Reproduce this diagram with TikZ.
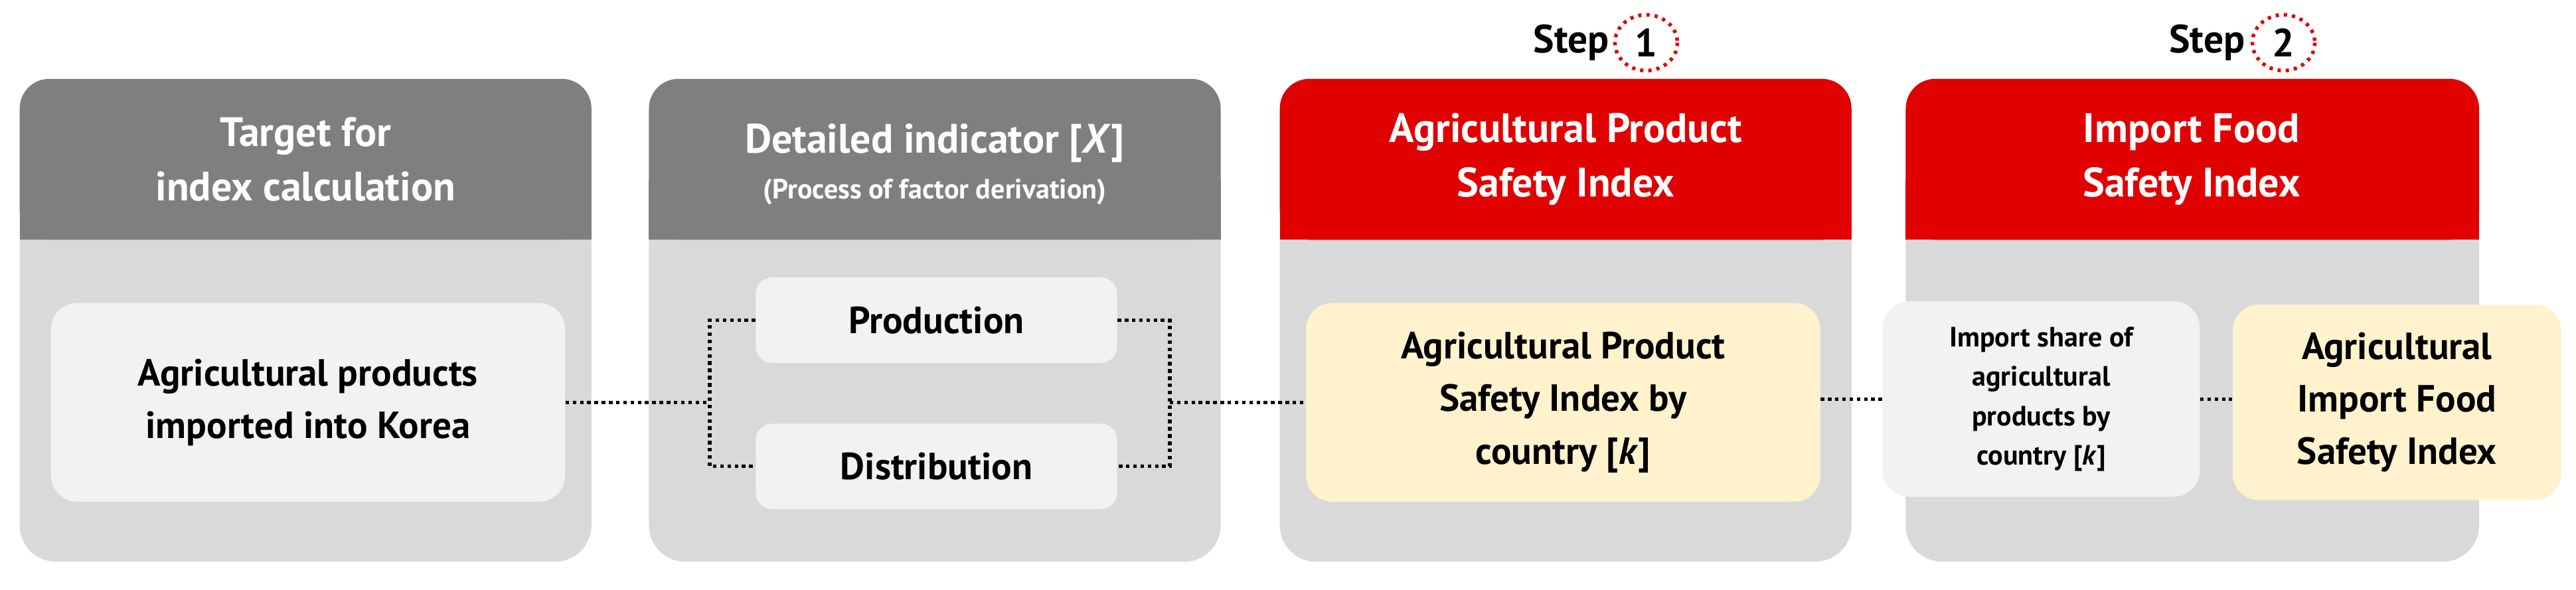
\documentclass[tikz,border=0pt]{standalone}
\usepackage{fontspec}
\setmainfont{PT Sans}
\definecolor{dg}{HTML}{7F7F7F}
\definecolor{lg}{HTML}{D9D9D9}
\definecolor{ig}{HTML}{F2F2F2}
\definecolor{rd}{HTML}{E00000}
\definecolor{yl}{HTML}{FFF2CC}
\tikzset{
 col/.style={fill=lg,rounded corners=22pt},
 hd/.style={rounded corners=18pt},
 htext/.style={text=white,font=\bfseries\fontsize{25}{33}\selectfont,align=center},
 inner/.style={rounded corners=16pt,font=\bfseries\fontsize{23}{32}\selectfont,align=center},
 conn/.style={line width=2.2pt,dash pattern=on 2.2pt off 2.2pt},
}
\begin{document}
\begin{tikzpicture}[x=1pt,y=-1pt]
\useasboundingbox (0,0) rectangle (1568,359);
% columns
\foreach \a/\b/\c in {12/360/dg,395/743/dg,779/1127/rd,1160/1509/rd}{
 \fill[col] (\a,48) rectangle (\b,342);
 \fill[\c,hd] (\a,48) rectangle (\b,146);
 \fill[\c] (\a,110) rectangle (\b,146);
}
\node[htext] (h1) at (186,97) {Target for\\index calculation};
\node[htext] (h2) at (569,87) {Detailed indicator [\textit{X}]};
\node[text=white,font=\bfseries\fontsize{17}{20}\selectfont] (h2b) at (569,117) {(Process of factor derivation)};
\node[htext] (h3) at (953,97) {Agricultural Product\\Safety Index};
\node[htext] (h4) at (1334,97) {Import Food\\Safety Index};
% steps
\node[font=\bfseries\fontsize{24}{28}\selectfont,anchor=east] (s1) at (983,26) {Step};
\draw[rd,line width=2.2pt,dash pattern=on 2pt off 3pt] (1002,26) ellipse [x radius=19, y radius=17];
\node[font=\bfseries\fontsize{24}{28}\selectfont] (n1) at (1002,26) {1};
\node[font=\bfseries\fontsize{24}{28}\selectfont,anchor=east] (s2) at (1370,26) {Step};
\draw[rd,line width=2.2pt,dash pattern=on 2pt off 3pt] (1390,26) ellipse [x radius=19, y radius=17];
\node[font=\bfseries\fontsize{24}{28}\selectfont] (n2) at (1390,26) {2};
% inner boxes
\node[inner,fill=ig,minimum width=313pt,minimum height=121pt] (a) at (187.5,245) {Agricultural products\\imported into Korea};
\node[inner,fill=ig,minimum width=220pt,minimum height=52pt,rounded corners=10pt] (p) at (570,195) {Production};
\node[inner,fill=ig,minimum width=220pt,minimum height=52pt,rounded corners=10pt] (d) at (570,284) {Distribution};
\node[inner,fill=yl,minimum width=313pt,minimum height=121pt] (y1) at (951.5,245) {Agricultural Product\\Safety Index by\\country [\textit{k}]};
\node[inner,fill=ig,minimum width=193pt,minimum height=119pt,font=\bfseries\fontsize{17}{24}\selectfont] (s) at (1242.5,243) {Import share of\\agricultural\\products by\\country [\textit{k}]};
\node[inner,fill=yl,minimum width=200pt,minimum height=119pt] (y2) at (1459,245) {Agricultural\\Import Food\\Safety Index};
% connectors
\coordinate (jl) at (432,245);
\coordinate (jr) at (712,245);
\draw[conn] (a.east |- jl) -- (jl);
\draw[conn] (p.west) -| (jl) |- (d.west);
\draw[conn] (p.east) -| (jr) |- (d.east);
\draw[conn] (jr) -- (y1.west |- jr);
\draw[conn] (y1.east |- s.west) -- (s.west);
\draw[conn] (s.east) -- (y2.west |- s.east);
\end{tikzpicture}
\end{document}
